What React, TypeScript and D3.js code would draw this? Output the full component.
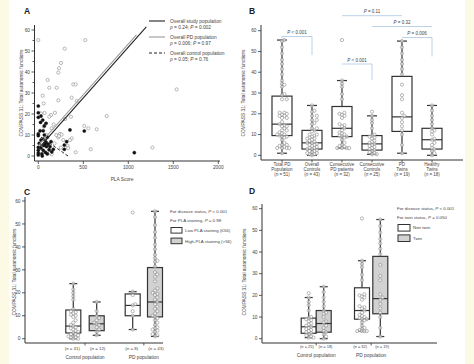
import React from 'react';
import * as d3 from 'd3';

const W = 474, H = 364;
const FONT = "'Liberation Sans', Arial, sans-serif";

// ---------- Panel A data ----------
const pdPla = [0,522,293,252,230,222,104,389,415,122,204,1537,49,371,222,427,760,363,185,141,122,297,30,511,556,649,149,241,222,371,352,278,582,415,149,250,326,1268,331,200,260,90,170,60,100,180,70,230,130,60,40];
const pdScore = [55.2,55.2,51.1,44.3,41.8,39.7,36.2,34.1,34.1,32.5,32.5,31.7,28.7,27.8,26.5,26.2,19,18.7,20.6,19.5,18.7,17.6,20.3,14.3,13.2,12.7,13.2,10.5,8.9,8.4,7.6,7.6,3.2,1.8,0.8,4,4.9,4,3.7,10,10.2,10,15,14,5,6,20.5,9.5,1.5,25,8];
const ctrlPla = [0,0,0,30,49,67,86,0,0,67,30,74,111,141,0,0,0,30,55,80,44,167,315,289,289,352,511,1067,90,60,10,120,20,100,150,85,0,40,25,130,55,60,100];
const ctrlScore = [23.8,20.6,18.4,19,17.1,14.3,15.6,10.5,9.7,10,7.6,5.7,5.7,6.8,4.1,2.7,1.4,3.8,2.7,1.7,0,3.2,6.8,5.2,3.2,12.4,11.9,1.6,4.5,5,6,3,12,9,2,6.5,0.5,1,16,4.5,12,8,1];
const regNames = ['Overall study population', 'Overall PD population', 'Overall control population'];
const regStats = ['0.24', '0.006', '0.05'];
const regP = ['0.002', '0.97', '0.76'];
const regIntercept = [3.5, 5.0, 9.9];
const regSlope = [0.0483, 0.0483, -0.03];
const regX0 = [0, 0, 30];
const regX1 = [1200, 1090, 330];
const aXTicks = [0, 500, 1000, 1500, 2000];
const yTicks = [0, 10, 20, 30, 40, 50, 60];
const aYMinor = [5, 15, 25, 35, 45, 55];

// ---------- group values ----------
const consecutivePD = [36,34.5,33,29.5,27,20.5,20,19.5,19,18,15,14.5,14,13,12,11,10.5,10,9.5,9,9,8.5,7.5,6,5,4.5,4,3.5,3.5,3.5,3.5,55.5];
const pdTwins = [55,52,49,46,44,41.5,39,34,29,27,20.5,19,18,16,14,12,10,5,1];
const consecutiveControls = [21,19,17,15.5,13,10,9.5,9,8.5,8,7,6.5,6,5.5,5,4.5,4,3.5,3,2.5,2,1.5,1,0.5,0.5];
const healthyTwins = [24,21.5,19,17,15,13,12,11.5,10,8,7.5,6,5,3.5,3,2,1,0];
const ctrlLowPLA = [24,21.5,20,18.5,17,13,12,11.5,11,10.5,10,9.5,8,7,6,5.5,5,4.5,4,3.5,3,2.5,2,2,1.5,1,1,0.5,0.5,0,0];
const ctrlHighPLA = [16,12,10,9,8,7,6.5,6,5,4,3,1.5];
const pdLowPLA = [55,20.5,19,15,14.5,12,10,4];
const pdHighPLA = [55.5,53,49.5,46.5,44,41,39,36.5,35,34,33.5,31.5,29,28,27,25,22,21,20,19.5,19,18,17,16,15,14,13,12,11,10,9.5,9,8,7,6,5,4.5,4,3.5,3,2,1.5,1];

// ---------- Panel B ----------
const bLabels = [
  ['Total PD', 'Population', '51'],
  ['Overall', 'Controls', '43'],
  ['Consecutive', 'PD patients', '32'],
  ['Consecutive', 'Controls', '25'],
  ['PD', 'Twins', '19'],
  ['Healthy', 'Twins', '18'],
];
const bValues = [consecutivePD.concat(pdTwins), consecutiveControls.concat(healthyTwins), consecutivePD, consecutiveControls, pdTwins, healthyTwins];
const bLo = [1, 0, 3.5, 0.5, 1, 0];
const bQ1 = [9.5, 3, 9, 2.5, 11.5, 3];
const bMed = [15, 6, 13, 5.5, 18.5, 7.5];
const bQ3 = [28.5, 12, 23.5, 9.5, 38, 13];
const bHi = [55.5, 24, 36, 19, 55, 24];
const bSigFrom = [0, 2, 2, 3, 4];
const bSigTo = [1, 3, 4, 5, 5];
const bSigOp = ['<', '<', '=', '=', '='];
const bSigVal = ['0.001', '0.001', '0.11', '0.32', '0.006'];

// ---------- Panel C ----------
const cValues = [ctrlLowPLA, ctrlHighPLA, pdLowPLA, pdHighPLA];
const cN = ['31', '12', '8', '43'];
const cLo = [0, 1.5, 4, 1];
const cQ1 = [2.5, 3.5, 10, 9.5];
const cMed = [5.5, 6.5, 14.5, 16];
const cQ3 = [12.5, 10, 19.5, 31];
const cHi = [24, 16, 20.5, 55.5];
const cGroups = ['Control population', 'PD population'];
const cLegend = ['Low PLA staining (\u226456)', 'High-PLA staining (>56)'];
const cTests = [['For disease status, ', '<', '0.001'], ['For PLA staining, ', '=', '0.98']];

// ---------- Panel D ----------
const dValues = [consecutiveControls, healthyTwins, consecutivePD, pdTwins];
const dN = ['25', '18', '32', '19'];
const dLo = [0.5, 0, 3.5, 1];
const dQ1 = [2.5, 3, 9, 11.5];
const dMed = [5.5, 7, 13, 18.5];
const dQ3 = [9.5, 13, 23.5, 38];
const dHi = [19, 24, 36, 55];
const dGroups = ['Control population', 'PD population'];
const dLegend = ['Non twin', 'Twin'];
const dTests = [['For disease status, ', '<', '0.001'], ['For twin status, ', '=', '0.050']];

const YLABEL = 'COMPASS 31: Total autonomic functions';
const AX = '#333';
const PT = '#8a8a8a';
const GRAYFILL = '#d2d2d2';
const SIG = '#a9c7e3';
const FS = 4.8;

function swarm(values: number[], y: d3.ScaleLinear<number, number>, r: number, step: number, maxDx: number) {
  const idx = values.map((v, i) => i).sort((a, b) => values[a] - values[b]);
  const placed: { x: number; y: number }[] = [];
  const out: { dx: number; y: number }[] = new Array(values.length);
  const minD = 2 * r * 0.8;
  idx.forEach(i => {
    const py = y(values[i]);
    let best = 0, bestScore = Infinity;
    for (let k = 0; k < 20; k++) {
      const m = Math.ceil(k / 2) * (k % 2 === 1 ? 1 : -1);
      const dx = m * step;
      if (Math.abs(dx) > maxDx) break;
      let score = 0;
      placed.forEach(p => {
        const d = Math.hypot(p.x - dx, p.y - py);
        if (d < minD) score += minD - d;
      });
      if (score === 0) { best = dx; bestScore = 0; break; }
      if (score < bestScore) { bestScore = score; best = dx; }
    }
    placed.push({ x: best, y: py });
    out[i] = { dx: best, y: py };
  });
  return out;
}

function Box(props: { cx: number; w: number; lo: number; q1: number; med: number; q3: number; hi: number; values: number[]; y: d3.ScaleLinear<number, number>; fill: string; cap: number }) {
  const { cx, w, lo, q1, med, q3, hi, values, y, fill, cap } = props;
  const pts = swarm(values, y, 1.6, 2.4, w / 2 - 1.5);
  return (
    <g>
      <line x1={cx} x2={cx} y1={y(lo)} y2={y(q1)} stroke={AX} strokeWidth={1.2} />
      <line x1={cx} x2={cx} y1={y(q3)} y2={y(hi)} stroke={AX} strokeWidth={1.2} />
      <line x1={cx - cap / 2} x2={cx + cap / 2} y1={y(lo)} y2={y(lo)} stroke={AX} strokeWidth={1.2} />
      <line x1={cx - cap / 2} x2={cx + cap / 2} y1={y(hi)} y2={y(hi)} stroke={AX} strokeWidth={1.2} />
      <rect x={cx - w / 2} y={y(q3)} width={w} height={y(q1) - y(q3)} fill={fill} stroke={AX} strokeWidth={1.2} />
      <line x1={cx - w / 2} x2={cx + w / 2} y1={y(med)} y2={y(med)} stroke={AX} strokeWidth={1.2} />
      {pts.map((p, i) => (
        <circle key={i} cx={cx + p.dx} cy={p.y} r={1.6} fill="white" fillOpacity={0.6} stroke={PT} strokeWidth={0.6} />
      ))}
    </g>
  );
}

function YAxis(props: { x: number; y: d3.ScaleLinear<number, number>; top: number; bottom: number; minor?: number[] }) {
  const { x, y, top, bottom, minor } = props;
  return (
    <g>
      <line x1={x} x2={x} y1={top} y2={bottom} stroke={AX} strokeWidth={1} />
      {yTicks.map(t => (
        <g key={t}>
          <line x1={x - 3} x2={x} y1={y(t)} y2={y(t)} stroke={AX} strokeWidth={0.8} />
          <text x={x - 4.5} y={y(t)} dy="0.35em" textAnchor="end" fontSize={FS} fill="#444">{t}</text>
        </g>
      ))}
      {(minor || []).map(t => (
        <line key={'m' + t} x1={x - 2} x2={x} y1={y(t)} y2={y(t)} stroke={AX} strokeWidth={0.8} />
      ))}
    </g>
  );
}

function YLabel(props: { x: number; cy: number }) {
  return (
    <text transform={`translate(${props.x},${props.cy}) rotate(-90)`} textAnchor="middle" fontSize={FS} fill="#444">{YLABEL}</text>
  );
}

function PanelA() {
  const x = d3.scaleLinear().domain([0, 2000]).range([38.3, 218.3]);
  const y = d3.scaleLinear().domain([0, 60]).range([156, 30]);
  const regColor = ['#222', '#9a9a9a', '#222'];
  const regDash = ['', '', '3,2'];
  const regWidth = [1.1, 1.1, 1];
  const legY = [21, 37, 53];
  return (
    <g>
      <text x={24} y={14} fontSize={8.5} fontWeight="bold" fill="#222">A</text>
      <YAxis x={34.5} y={y} top={25} bottom={161} minor={aYMinor} />
      <line x1={34.5} x2={220} y1={161} y2={161} stroke={AX} strokeWidth={1} />
      {aXTicks.map(t => (
        <g key={t}>
          <line x1={x(t)} x2={x(t)} y1={161} y2={164} stroke={AX} strokeWidth={0.8} />
          <text x={x(t)} y={169} textAnchor="middle" fontSize={FS} fill="#444">{t}</text>
        </g>
      ))}
      <text x={122} y={181} textAnchor="middle" fontSize={FS} fill="#444">PLA Score</text>
      <YLabel x={23} cy={93} />
      {pdPla.map((v, i) => (
        <circle key={'p' + i} cx={x(v)} cy={y(pdScore[i])} r={1.6} fill="white" stroke={PT} strokeWidth={0.6} />
      ))}
      {ctrlPla.map((v, i) => (
        <circle key={'c' + i} cx={x(v)} cy={y(ctrlScore[i])} r={1.6} fill="#111" stroke="#111" strokeWidth={0.4} />
      ))}
      {regNames.map((n, i) => (
        <line key={'r' + i} x1={x(regX0[i])} x2={x(regX1[i])} y1={y(regIntercept[i] + regSlope[i] * regX0[i])} y2={y(regIntercept[i] + regSlope[i] * regX1[i])}
          stroke={regColor[i]} strokeWidth={regWidth[i]} strokeDasharray={regDash[i]} />
      ))}
      {regNames.map((n, i) => (
        <g key={'l' + i}>
          <line x1={149} x2={165} y1={legY[i]} y2={legY[i]} stroke={regColor[i]} strokeWidth={regWidth[i]} strokeDasharray={regDash[i]} />
          <text x={170} y={legY[i] + 1.7} fontSize={FS} fill="#444">{n}</text>
          <text x={170} y={legY[i] + 8.2} fontSize={FS} fill="#444">
            <tspan fontStyle="italic">{'\u03c1'}</tspan>{' = ' + regStats[i] + '; '}<tspan fontStyle="italic">P</tspan>{' = ' + regP[i]}
          </text>
        </g>
      ))}
    </g>
  );
}

function PanelB() {
  const y = d3.scaleLinear().domain([0, 60]).range([155.3, 30.7]);
  const x = d3.scalePoint<number>().domain(d3.range(6)).range([282, 432]);
  const sigY = [36.5, 64, 15.7, 26.5, 37.5];
  const sigDropR = [55, 80, 15.7, 26.5, 56.5];
  const sigDropL = [38.5, 64, 15.7, 26.5, 37.5];
  return (
    <g>
      <text x={249} y={14} fontSize={8.5} fontWeight="bold" fill="#222">B</text>
      <YLabel x={245} cy={93} />
      <YAxis x={261} y={y} top={25} bottom={160} />
      <line x1={261} x2={463} y1={160} y2={160} stroke={AX} strokeWidth={1} />
      {bValues.map((vals, i) => (
        <g key={i}>
          <line x1={x(i)!} x2={x(i)!} y1={160} y2={162.5} stroke={AX} strokeWidth={0.8} />
          <Box cx={x(i)!} w={20} lo={bLo[i]} q1={bQ1[i]} med={bMed[i]} q3={bQ3[i]} hi={bHi[i]} values={vals} y={y} fill="white" cap={10} />
          <text x={x(i)!} y={166} textAnchor="middle" fontSize={4.5} fill="#444">{bLabels[i][0]}</text>
          <text x={x(i)!} y={171} textAnchor="middle" fontSize={4.5} fill="#444">{bLabels[i][1]}</text>
          <text x={x(i)!} y={176} textAnchor="middle" fontSize={4.5} fill="#444">(<tspan fontStyle="italic">n</tspan>{' = ' + bLabels[i][2] + ')'}</text>
        </g>
      ))}
      {bSigFrom.map((f, i) => {
        const x1 = x(f)!, x2 = x(bSigTo[i])!;
        return (
          <g key={'s' + i}>
            <path d={`M${x1},${sigDropL[i]}V${sigY[i]}H${x2}V${sigDropR[i]}`} fill="none" stroke={SIG} strokeWidth={0.8} />
            <text x={(x1 + x2) / 2} y={sigY[i] - 2.5} textAnchor="middle" fontSize={4.5} fill="#444">
              <tspan fontStyle="italic">P</tspan>{' ' + bSigOp[i] + ' ' + bSigVal[i]}
            </text>
          </g>
        );
      })}
    </g>
  );
}

function GroupPanel(props: {
  letter: string; lx: number; ly: number; axisX: number; axisTop: number; axisEnd: number; yTop: number; ylabX: number; ylabY: number;
  centers: number[]; values: number[][]; lo: number[]; q1: number[]; med: number[]; q3: number[]; hi: number[]; n: string[];
  groups: string[]; nY: number; gY: number; legX: number; legY: number; legend: string[]; tests: string[][]; boxW: number; boxH: number; legStep: number; nFs: number; nOff: number;
}) {
  const p = props;
  const y = d3.scaleLinear().domain([0, 60]).range([338.7, p.yTop]);
  return (
    <g>
      <text x={p.lx} y={p.ly} fontSize={8.5} fontWeight="bold" fill="#222">{p.letter}</text>
      <YLabel x={p.ylabX} cy={p.ylabY} />
      <YAxis x={p.axisX} y={y} top={p.axisTop} bottom={343} />
      <line x1={p.axisX} x2={p.axisEnd} y1={343} y2={343} stroke={AX} strokeWidth={1} />
      {p.values.map((vals, i) => (
        <g key={i}>
          <Box cx={p.centers[i]} w={15} lo={p.lo[i]} q1={p.q1[i]} med={p.med[i]} q3={p.q3[i]} hi={p.hi[i]} values={vals} y={y} fill={i % 2 === 1 ? GRAYFILL : 'white'} cap={8} />
          <text x={p.centers[i] + (i % 2 === 0 ? -p.nOff : p.nOff)} y={p.nY} textAnchor="middle" fontSize={p.nFs} fill="#444">(<tspan fontStyle="italic">n</tspan>{' = ' + p.n[i] + ')'}</text>
        </g>
      ))}
      {p.groups.map((g, j) => {
        const cx = (p.centers[2 * j] + p.centers[2 * j + 1]) / 2;
        return (
          <g key={g}>
            <line x1={cx} x2={cx} y1={343} y2={345.5} stroke={AX} strokeWidth={0.8} />
            <text x={cx} y={p.gY} textAnchor="middle" fontSize={FS} fill="#444">{g}</text>
          </g>
        );
      })}
      {p.tests.map((t, j) => (
        <text key={'t' + j} x={p.legX} y={p.legY + j * 9.5} fontSize={4.4} fill="#444">
          {t[0]}<tspan fontStyle="italic">P</tspan>{' ' + t[1] + ' ' + t[2]}
        </text>
      ))}
      {p.legend.map((l, j) => {
        const by = p.legY + 15 + j * p.legStep;
        return (
          <g key={'lg' + j}>
            <rect x={p.legX + 1} y={by} width={p.boxW} height={p.boxH} fill={j === 1 ? GRAYFILL : 'white'} stroke={AX} strokeWidth={1} />
            <text x={p.legX + p.boxW + 4} y={by + p.boxH / 2 + 1.6} fontSize={4.4} fill="#444">{l}</text>
          </g>
        );
      })}
    </g>
  );
}

export default function App() {
  return (
    <svg width={W} height={H} viewBox={`0 0 ${W} ${H}`} style={{ position: 'fixed', left: 0, top: 0, fontFamily: FONT }}>
      <rect x={0} y={0} width={W} height={H} fill="#fcf9e4" />
      <rect x={9} y={0} width={456} height={H} fill="white" />
      <PanelA />
      <PanelB />
      <GroupPanel letter="C" lx={24} ly={195} axisX={25} axisTop={197} axisEnd={163} yTop={201} ylabX={16} ylabY={272}
        centers={[73.3, 96.7, 132.7, 155]} values={cValues} lo={cLo} q1={cQ1} med={cMed} q3={cQ3} hi={cHi} n={cN}
        groups={cGroups} nY={349.7} gY={359} legX={170} legY={212.5} legend={cLegend} tests={cTests} boxW={11} boxH={5.6} legStep={10.6} nFs={4.4} nOff={1} />
      <GroupPanel letter="D" lx={249} ly={194} axisX={262} axisTop={204} axisEnd={437} yTop={208.7} ylabX={246} ylabY={272}
        centers={[308.7, 323.7, 362, 380.3]} values={dValues} lo={dLo} q1={dQ1} med={dMed} q3={dQ3} hi={dHi} n={dN}
        groups={dGroups} nY={347.7} gY={356.7} legX={397} legY={209.5} legend={dLegend} tests={dTests} boxW={12} boxH={6.6} legStep={10.4} nFs={4} nOff={1.8} />
    </svg>
  );
}
